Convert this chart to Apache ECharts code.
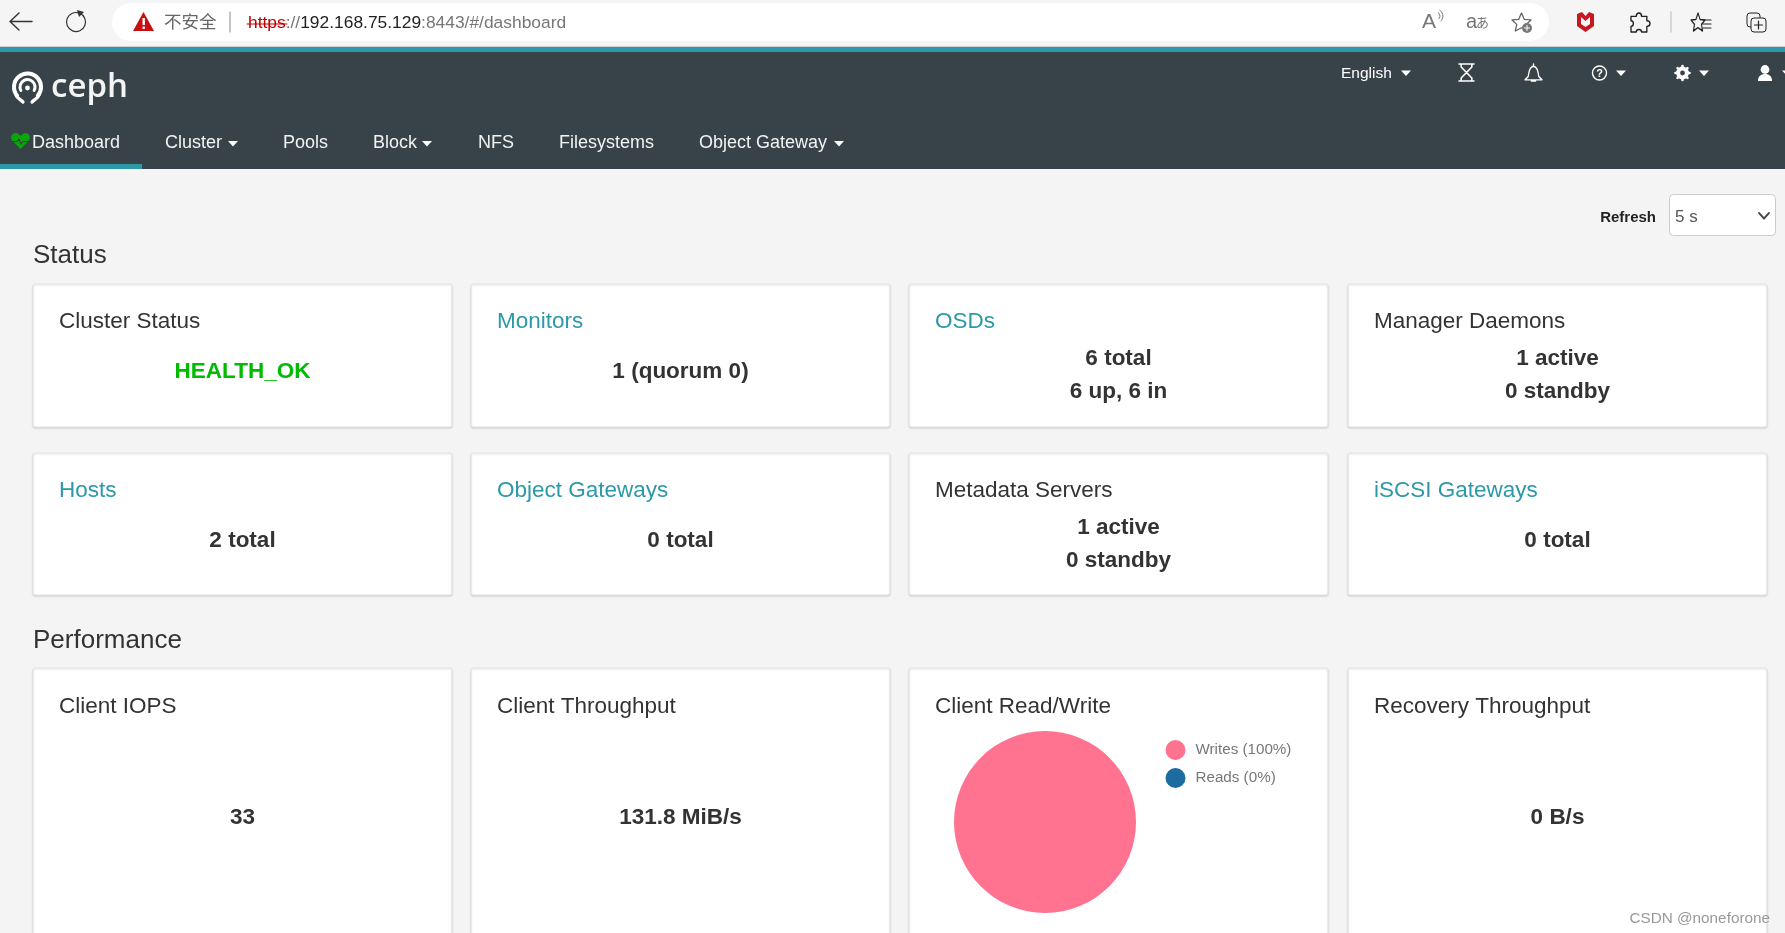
<!DOCTYPE html>
<html>
<head>
<meta charset="utf-8">
<title>ceph dashboard</title>
<style>
html,body{margin:0;padding:0;background:#f4f4f4;overflow:hidden}
#main{width:1785px;height:933px}
</style>
<script src="https://cdn.jsdelivr.net/npm/echarts@6/dist/echarts.min.js"></script>
</head>
<body>
<div id="main"></div>
<script>
// nav
var navLabels = ['Dashboard', 'Cluster', 'Pools', 'Block', 'NFS', 'Filesystems', 'Object Gateway'];
var navX = [32, 165, 283, 373, 478, 559, 699];
var navCaret = [0, 233, 0, 427, 0, 0, 839];

// tiles
var statusTitles = ['Cluster Status', 'Monitors', 'OSDs', 'Manager Daemons', 'Hosts', 'Object Gateways', 'Metadata Servers', 'iSCSI Gateways'];
var statusLinks = [false, true, true, false, true, true, false, true];
var statusValues = [['HEALTH_OK'], ['1 (quorum 0)'], ['6 total', '6 up, 6 in'], ['1 active', '0 standby'], ['2 total'], ['0 total'], ['1 active', '0 standby'], ['0 total']];
var perfTitles = ['Client IOPS', 'Client Throughput', 'Client Read/Write', 'Recovery Throughput'];
var perfValues = ['33', '131.8 MiB/s', '', '0 B/s'];

// pie
var rwNames = ['Writes (100%)', 'Reads (0%)'];
var rwValues = [100, 0];
var rwColors = ['#ff7290', '#1d6ca1'];

var cardX = [33, 471, 909, 1348];
var cardW = 419;
var TEAL = '#2b99a8', DARK = '#333333', NAV = '#374249';
var FONT = '"Liberation Sans", Arial, sans-serif';
var CJK = '"Noto Sans CJK SC", sans-serif';

var g = [];
function rect(x, y, w, h, fill, r, stroke, extra) {
    var o = {type: 'rect', shape: {x: x, y: y, width: w, height: h, r: r || 0}, style: {fill: fill, stroke: stroke || null, lineWidth: stroke ? 1 : 0}};
    if (extra) Object.assign(o.style, extra);
    g.push(o);
}
function txt(x, y, s, size, color, weight, align, font) {
    g.push({type: 'text', x: x, y: y, style: {text: s, fontSize: size, fill: color, fontWeight: weight || 'normal', fontFamily: font || FONT, align: align || 'left', verticalAlign: 'middle'}});
}
function line(x1, y1, x2, y2, color, w) {
    g.push({type: 'line', shape: {x1: x1, y1: y1, x2: x2, y2: y2}, style: {stroke: color, lineWidth: w || 1, lineCap: 'round'}});
}
// svg path fitted into a box; the graphic component has no plain path type so register one per icon
var iconCount = 0;
function icon(x, y, w, h, d, fill, stroke, lw) {
    var name = 'icon' + (iconCount++);
    var Clz = echarts.graphic.extendPath(d, {});
    echarts.graphic.registerShape(name, Clz);
    var b = new Clz().getBoundingRect();
    var sx = w / b.width, sy = h / b.height;
    g.push({type: name, x: x - b.x * sx, y: y - b.y * sy, scaleX: sx, scaleY: sy,
        style: {fill: fill || null, stroke: stroke || null, lineWidth: (lw || 0) / ((sx + sy) / 2), lineJoin: 'round', lineCap: 'round'}});
}
function caret(cx, cy, color) {
    g.push({type: 'polygon', shape: {points: [[cx - 5, cy - 2.5], [cx + 5, cy - 2.5], [cx, cy + 3]]}, style: {fill: color || '#fff'}});
}
function circle(cx, cy, r, fill, stroke, lw) {
    g.push({type: 'circle', shape: {cx: cx, cy: cy, r: r}, style: {fill: fill || null, stroke: stroke || null, lineWidth: lw || 0}});
}
function arc(cx, cy, r, a0, a1, color, lw) {
    g.push({type: 'arc', shape: {cx: cx, cy: cy, r: r, startAngle: a0, endAngle: a1}, style: {stroke: color, lineWidth: lw, fill: null, lineCap: 'round'}});
}

// browser toolbar
rect(0, 0, 1785, 47, '#f5f5f5');
line(0, 46.5, 1785, 46.5, '#cfcfcf', 1);
rect(112, 3, 1437, 38, '#ffffff', 19);
icon(10, 13, 22, 17, 'M10 1 L1 9 L10 17 M1 9 L23 9', null, '#333', 1.5);
arc(76, 22, 9.5, -1.2, 5.0, '#333', 1.2);
g.push({type: 'polygon', shape: {points: [[77, 10], [84, 12], [79, 17]]}, style: {fill: '#333'}});
g.push({type: 'polygon', shape: {points: [[143.5, 12], [154, 31], [133, 31]]}, style: {fill: '#c80f0f'}});
rect(142.5, 18, 2.4, 7, '#fff');
rect(142.5, 26.5, 2.4, 2.4, '#fff');
txt(164, 21, '不安全', 17.5, '#666', 'normal', 'left', CJK);
line(230, 12, 230, 32, '#888', 1);
g.push({type: 'text', x: 248, y: 23, style: {
    text: '{r|https}{g|://}{d|192.168.75.129}{g|:8443/#/dashboard}',
    fontFamily: FONT, fontSize: 17.4, verticalAlign: 'middle',
    rich: {
        r: {fill: '#c00000', fontSize: 17.4, fontFamily: FONT},
        g: {fill: '#777777', fontSize: 17.4, fontFamily: FONT},
        d: {fill: '#222222', fontSize: 17.4, fontFamily: FONT}
    }}});
line(247, 24, 287, 24, '#c00000', 1);
// toolbar icons on the right
txt(1422, 22, 'A', 21, '#777', 'normal');
arc(1436, 16, 4, -1, 0.8, '#777', 1);
arc(1436, 16, 7, -1, 0.8, '#777', 1);
txt(1466, 22, 'a', 20, '#777');
txt(1476, 22, 'あ', 13, '#777', 'normal', 'left', CJK);
var starPath = 'M10 0 L13 7 L20 7.6 L15 12.4 L16.5 19.6 L10 16 L3.5 19.6 L5 12.4 L0 7.6 L7 7 Z';
icon(1512, 13, 19, 18, starPath, null, '#666', 1.3);
circle(1527, 28, 5, '#777');
line(1524.5, 28, 1529.5, 28, '#fff', 1);
line(1527, 25.5, 1527, 30.5, '#fff', 1);
icon(1577, 12, 17, 20, 'M0 2 L5 0 L8.5 4 L12 0 L17 2 L17 14 L8.5 20 L0 14 Z M4 5 L4 12 L8.5 15 L13 12 L13 5 L8.5 9 Z', '#c8171e');
icon(1631, 13, 19, 19, 'M7 3 C7 -1 12 -1 12 3 L17 3 L17 7 C21 7 21 12 17 12 L17 17 L12 17 C12 14 7 14 7 17 L2 17 L2 12 C5 12 5 7 2 7 L2 3 Z', null, '#222', 1.4);
line(1671, 12, 1671, 32, '#ccc', 1.5);
icon(1691, 13, 14, 18, starPath, null, '#222', 1.3);
line(1703, 20, 1711, 20, '#222', 1.2);
line(1703, 24, 1711, 24, '#222', 1.2);
line(1703, 28, 1711, 28, '#222', 1.2);
rect(1747, 13, 13, 14, null, 3, '#222');
rect(1751, 18, 15, 14, '#f5f5f5', 3, '#222');
line(1758.5, 21, 1758.5, 29, '#222', 1.2);
line(1754.5, 25, 1762.5, 25, '#222', 1.2);

// top nav
rect(0, 47, 1785, 5, TEAL);
rect(0, 52, 1785, 117, NAV);
rect(0, 164, 142, 5, TEAL);
// logo
arc(27.5, 87, 13.5, Math.PI * 0.78, Math.PI * 2.22, '#fff', 4);
arc(27.5, 87, 7.5, Math.PI * 0.85, Math.PI * 2.15, '#fff', 3);
circle(27.5, 88, 2.4, '#fff');
icon(16, 95, 7, 7, 'M0 0 C1 3 3 3 6 6', null, '#fff', 3.2);
icon(32, 95, 7, 7, 'M6 0 C5 3 3 3 0 6', null, '#fff', 3.2);
txt(51, 87.5, 'ceph', 33, '#f4f4f4', 600, 'left', '"Open Sans", sans-serif');
// heart
icon(11, 133, 19, 16, 'M10 18 L1 8 C-2 3 3 -1 6 0 C8 0.5 9 2 10 3 C11 2 12 0.5 14 0 C17 -1 22 3 19 8 Z', '#0aa50a');
icon(12, 139, 17, 5, 'M0 3 L5 3 L7 0 L9 6 L11 3 L17 3', null, NAV, 1);
for (var i = 0; i < navLabels.length; i++) {
    txt(navX[i], 143.5, navLabels[i], 18, '#f1f3f4');
    if (navCaret[i]) caret(navCaret[i], 143.5);
}
txt(1341, 74, 'English', 15.5, '#fff');
caret(1406, 73);
icon(1459, 64, 15, 17, 'M0 0 L14 0 M0 17 L14 17 M2 0 L2 3 L12 14 L12 17 M12 0 L12 3 L2 14 L2 17', null, '#fff', 1.5);
icon(1525, 64, 17, 17, 'M8 0 L8 2 C3 3 4 8 3 11 L0 14 L16 14 L13 11 C12 8 13 3 8 2 M6 15 L10 15', null, '#fff', 1.4);
circle(1599.5, 73, 7, null, '#fff', 1.4);
txt(1599.5, 74, '?', 11, '#fff', 'bold', 'center');
caret(1621, 73);
circle(1682.5, 73, 4.4, null, '#fff', 4);
for (var a = 0; a < 8; a++) {
    var t = a * Math.PI / 4;
    line(1682.5 + Math.cos(t) * 5, 73 + Math.sin(t) * 5, 1682.5 + Math.cos(t) * 7, 73 + Math.sin(t) * 7, '#fff', 2.6);
}
caret(1704, 73);
circle(1765, 69.5, 4.4, '#fff');
icon(1758, 74, 14, 7, 'M0 7 C0 2 3 0 7 0 C11 0 14 2 14 7 Z', '#fff');
caret(1787, 73);

// refresh
txt(1656, 218, 'Refresh', 15, '#222', 'bold', 'right');
rect(1669.5, 194.5, 106, 41, '#fff', 4, '#cccccc');
txt(1675, 217, '5 s', 17, '#555');
icon(1759, 213, 10, 5.5, 'M0 0 L6 6 L12 0', null, '#444', 1.8);

// tiles
function card(x, y, h) {
    rect(x, y, cardW, h, '#ffffff', 2, '#e4e4e4', {shadowColor: 'rgba(0,0,0,0.14)', shadowBlur: 2, shadowOffsetY: 1});
}
txt(33, 256, 'Status', 26, DARK);
var rowY = [284, 453];
var rowH = [143, 142];
for (i = 0; i < statusTitles.length; i++) {
    var col = i % 4, row = i < 4 ? 0 : 1, x = cardX[col], y = rowY[row];
    card(x, y, rowH[row]);
    txt(x + 26, y + 38, statusTitles[i], 22.5, statusLinks[i] ? TEAL : DARK);
    var vals = statusValues[i], cx = x + cardW / 2;
    if (vals.length === 1) {
        txt(cx, y + 88, vals[0], 22.5, i === 0 ? '#00bb00' : DARK, 'bold', 'center');
    } else {
        txt(cx, y + 75, vals[0], 22.5, DARK, 'bold', 'center');
        txt(cx, y + 107.5, vals[1], 22.5, DARK, 'bold', 'center');
    }
}
txt(33, 641, 'Performance', 26, DARK);
for (i = 0; i < perfTitles.length; i++) {
    card(cardX[i], 668, 300);
    txt(cardX[i] + 26, 707, perfTitles[i], 22.5, DARK);
    if (perfValues[i]) txt(cardX[i] + cardW / 2, 818, perfValues[i], 22.5, DARK, 'bold', 'center');
}
g.push({type: 'text', x: 1770, y: 919, style: {text: 'CSDN @noneforone', fontSize: 15.3, fill: '#999', fontFamily: FONT, align: 'right', verticalAlign: 'middle'}});

var chart = echarts.init(document.getElementById('main'));
chart.setOption({
    animation: false,
    backgroundColor: '#f4f4f4',
    graphic: {elements: g.map(function (e) { e.z = -1; return e; })},
    color: rwColors,
    tooltip: {show: false},
    legend: {
        orient: 'vertical', left: 1165 - 4.5, top: 735, icon: 'circle',
        itemWidth: 20, itemHeight: 20, itemGap: 8,
        selectedMode: false,
        data: rwNames,
        textStyle: {color: '#777', fontSize: 15.2, fontFamily: FONT, padding: [0, 0, 0, 5]}
    },
    series: [{
        type: 'pie', center: [1045, 822], radius: [0, 91],
        silent: true, label: {show: false}, labelLine: {show: false},
        stillShowZeroSum: true, startAngle: 90,
        data: rwNames.map(function (n, k) { return {name: n, value: rwValues[k]}; })
    }]
});
</script>
</body>
</html>
